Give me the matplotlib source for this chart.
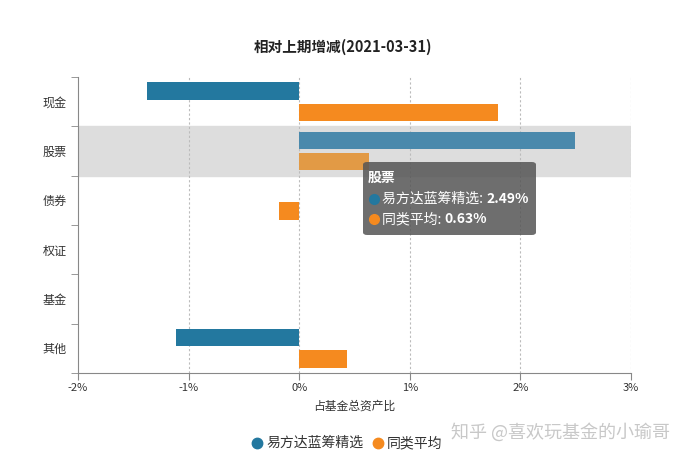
import numpy as np
import matplotlib.pyplot as plt
from matplotlib.patches import FancyBboxPatch
from matplotlib.lines import Line2D

plt.rcParams['font.family'] = ['Noto Sans CJK SC', 'DejaVu Sans']

categories = ['现金', '股票', '债券', '权证', '基金', '其他']
fund = [-1.38, 2.49, 0.0, 0.0, 0.0, -1.11]
peer = [1.80, 0.63, -0.18, 0.0, 0.0, 0.43]
fund_name = '易方达蓝筹精选'
peer_name = '同类平均'
highlight = '股票'

c_fund = '#23789f'
c_peer = '#f58a1f'
c_fund_hi = '#4a89ac'
c_peer_hi = '#e29a45'

W, H = 686, 459
fig = plt.figure(figsize=(W / 100, H / 100), dpi=100)
ax = fig.add_axes([78 / W, 1 - 373 / H, 553 / W, 296 / H])

y = np.arange(len(categories))
hi = categories.index(highlight)
ax.axhspan(hi - 0.5, hi + 0.5, color='#dddddd', zorder=0)

fc = [c_fund_hi if i == hi else c_fund for i in y]
pc = [c_peer_hi if i == hi else c_peer for i in y]
ax.barh(y - 0.215, fund, height=0.35, color=fc, zorder=3)
ax.barh(y + 0.215, peer, height=0.35, color=pc, zorder=3)

ax.set_xlim(-2, 3)
ax.set_ylim(len(categories) - 0.5, -0.5)
ticks = [-2, -1, 0, 1, 2, 3]
ax.set_xticks(ticks)
ax.set_xticklabels(['%d%%' % v for v in ticks], fontsize=8, color='#333333')
ax.set_yticks(y)
ax.set_yticklabels(categories, fontsize=8.7, color='#333333')
ax.set_yticks(np.arange(len(categories) + 1) - 0.5, minor=True)
ax.tick_params(axis='y', which='major', length=0, pad=8)
ax.tick_params(axis='y', which='minor', length=5, color='#888888')
ax.tick_params(axis='x', length=5, color='#888888', pad=2)
for v in ticks[1:]:
    ax.axvline(v, color='#bbbbbb', lw=0.8, ls=(0, (2, 2)), zorder=1)
for s in ['top', 'right']:
    ax.spines[s].set_visible(False)
for s in ['left', 'bottom']:
    ax.spines[s].set_color('#888888')
ax.set_xlabel('占基金总资产比', fontsize=8.5, color='#333333', labelpad=5)

fig.text(0.5, 1 - 47 / H, '相对上期增减(2021-03-31)', ha='center', va='center',
         fontsize=10.5, fontweight='bold', color='#222222')

# tooltip
tx0, ty0, tw, th = 363 / W, 1 - 235 / H, 173 / W, 73 / H
fig.patches.append(FancyBboxPatch((tx0, ty0), tw, th, boxstyle='round,pad=0,rounding_size=0.006',
                                  transform=fig.transFigure, fc='#555555', ec='none',
                                  alpha=0.85, zorder=10))
fig.text(368 / W, 1 - 178 / H, highlight, fontsize=10, fontweight='bold',
         color='white', va='center', zorder=11)
renderer = fig.canvas.get_renderer()
rows = [(fund_name, fund[hi], c_fund), (peer_name, peer[hi], c_peer)]
for k, (name, val, col) in enumerate(rows):
    yy = 1 - (199 + 20 * k) / H
    fig.add_artist(Line2D([374 / W], [yy], marker='o', ms=7, color=col,
                          transform=fig.transFigure, zorder=11))
    t = fig.text(382 / W, yy, name + ': ', fontsize=10, color='white', va='center', zorder=11)
    bb = t.get_window_extent(renderer)
    fig.text(bb.x1 / W, yy, '%.2f%%' % val, fontsize=10, fontweight='bold',
             color='white', va='center', zorder=11)

# legend
for name, col, x0 in [(fund_name, c_fund, 257), (peer_name, c_peer, 378)]:
    fig.add_artist(Line2D([x0 / W], [1 - 443 / H], marker='o', ms=7.5, color=col,
                          transform=fig.transFigure))
    fig.text((x0 + 9) / W, 1 - 443 / H, name, fontsize=10, color='#333333', va='center')

fig.text(670 / W, 1 - 432 / H, '知乎 @喜欢玩基金的小瑜哥', fontsize=13, color='#c8c8c8',
         ha='right', va='center')

fig.savefig('out.png', dpi=100)
